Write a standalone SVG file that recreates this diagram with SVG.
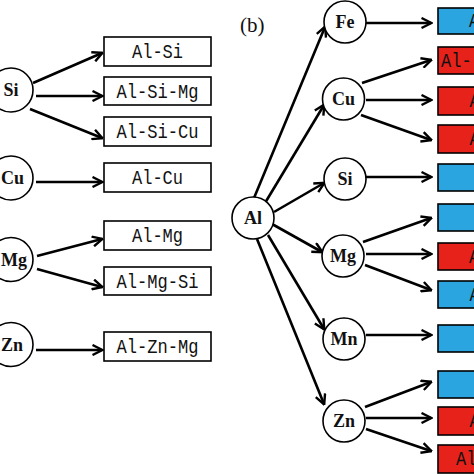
<svg xmlns="http://www.w3.org/2000/svg" width="474" height="474" viewBox="0 0 474 474">
<defs>
<style>
.bg{fill:#ffffff}
.node circle{fill:#ffffff;stroke:#000;stroke-width:1.6}
.el{font-family:"Liberation Serif","Times New Roman",serif;font-weight:bold;font-size:18px;text-anchor:middle;fill:#111}
.box rect{stroke:#000;stroke-width:1.6}
.w{fill:#ffffff}
.blue{fill:#2aa5df}
.red{fill:#e6221b}
.bt{font-family:"Liberation Mono","Courier New",monospace;font-size:20px;fill:#111}
.mid{text-anchor:middle}
.conn line{stroke:#000;stroke-width:2.6;fill:none;marker-end:url(#ah)}
.lbl{font-family:"Liberation Serif","Times New Roman",serif;font-size:21px;fill:#111}
</style>
<marker id="ah" viewBox="0 0 12 12" refX="10.5" refY="6" markerWidth="12" markerHeight="12" markerUnits="userSpaceOnUse" orient="auto">
<path d="M1,1 L11,6 L1,11" fill="none" stroke="#000" stroke-width="2.4" stroke-linejoin="miter"/>
</marker>
</defs>
<rect class="bg" x="0" y="0" width="474" height="474"/>

<!-- connectors -->
<g id="connectors" class="conn">
<!-- left panel -->
<line x1="33" y1="83" x2="102" y2="53"/>
<line x1="36" y1="96" x2="102" y2="96"/>
<line x1="30" y1="109" x2="102" y2="138"/>
<line x1="36" y1="182" x2="102" y2="182"/>
<line x1="37" y1="256" x2="102" y2="239"/>
<line x1="37" y1="269" x2="102" y2="287"/>
<line x1="36" y1="350" x2="102" y2="350"/>
<!-- right panel: Al to elements -->
<line x1="254" y1="198" x2="325" y2="27"/>
<line x1="265" y1="203" x2="324" y2="105"/>
<line x1="274" y1="212" x2="324" y2="183"/>
<line x1="272" y1="224" x2="322" y2="252"/>
<line x1="268" y1="235" x2="324" y2="329"/>
<line x1="257" y1="239" x2="324" y2="404"/>
<!-- elements to boxes -->
<line x1="366" y1="23" x2="431" y2="23"/>
<line x1="362" y1="83" x2="431" y2="60"/>
<line x1="366" y1="100" x2="431" y2="100"/>
<line x1="361" y1="115" x2="431" y2="140"/>
<line x1="366" y1="177" x2="431" y2="177"/>
<line x1="363" y1="242" x2="431" y2="218"/>
<line x1="366" y1="254" x2="431" y2="254"/>
<line x1="365" y1="265" x2="431" y2="290"/>
<line x1="366" y1="335" x2="431" y2="335"/>
<line x1="365" y1="407" x2="431" y2="382"/>
<line x1="366" y1="418" x2="431" y2="418"/>
<line x1="366" y1="429" x2="431" y2="451"/>
</g>

<!-- left panel nodes -->
<g id="L-Si" class="node"><circle cx="11" cy="90" r="22"/><text class="el" x="11" y="96">Si</text></g>
<g id="L-Cu" class="node"><circle cx="11" cy="178" r="22"/><text class="el" x="12.5" y="184">Cu</text></g>
<g id="L-Mg" class="node"><circle cx="11" cy="259.5" r="22"/><text class="el" x="14" y="265.5">Mg</text></g>
<g id="L-Zn" class="node"><circle cx="11" cy="344.5" r="22"/><text class="el" x="12" y="350.5">Zn</text></g>

<g id="L-AlSi" class="box"><rect class="w" x="104" y="37" width="107" height="29"/><text class="bt mid" x="157.5" y="58" textLength="51" lengthAdjust="spacingAndGlyphs">Al-Si</text></g>
<g id="L-AlSiMg" class="box"><rect class="w" x="104" y="77" width="107" height="28"/><text class="bt mid" x="157.5" y="97.5" textLength="82" lengthAdjust="spacingAndGlyphs">Al-Si-Mg</text></g>
<g id="L-AlSiCu" class="box"><rect class="w" x="104" y="117" width="107" height="29"/><text class="bt mid" x="157.5" y="138" textLength="82" lengthAdjust="spacingAndGlyphs">Al-Si-Cu</text></g>
<g id="L-AlCu" class="box"><rect class="w" x="104" y="163" width="107" height="29"/><text class="bt mid" x="157.5" y="184" textLength="51" lengthAdjust="spacingAndGlyphs">Al-Cu</text></g>
<g id="L-AlMg" class="box"><rect class="w" x="104" y="221" width="107" height="29"/><text class="bt mid" x="157.5" y="242" textLength="51" lengthAdjust="spacingAndGlyphs">Al-Mg</text></g>
<g id="L-AlMgSi" class="box"><rect class="w" x="104" y="267" width="107" height="28"/><text class="bt mid" x="157.5" y="287.5" textLength="82" lengthAdjust="spacingAndGlyphs">Al-Mg-Si</text></g>
<g id="L-AlZnMg" class="box"><rect class="w" x="104" y="332" width="107" height="29"/><text class="bt mid" x="157.5" y="353" textLength="82" lengthAdjust="spacingAndGlyphs">Al-Zn-Mg</text></g>

<!-- right panel -->
<text id="label-b" class="lbl" x="240" y="32">(b)</text>
<g id="R-Al" class="node"><circle cx="253" cy="218" r="21"/><text class="el" x="253" y="224">Al</text></g>
<g id="R-Fe" class="node"><circle cx="345" cy="22" r="21"/><text class="el" x="345" y="28">Fe</text></g>
<g id="R-Cu" class="node"><circle cx="343.5" cy="99" r="21"/><text class="el" x="343.5" y="105">Cu</text></g>
<g id="R-Si" class="node"><circle cx="345" cy="179" r="21"/><text class="el" x="345" y="185">Si</text></g>
<g id="R-Mg" class="node"><circle cx="343" cy="256" r="21"/><text class="el" x="343" y="262">Mg</text></g>
<g id="R-Mn" class="node"><circle cx="344" cy="339" r="21"/><text class="el" x="344" y="345">Mn</text></g>
<g id="R-Zn" class="node"><circle cx="344" cy="421" r="21"/><text class="el" x="344" y="427">Zn</text></g>

<g id="R-box1" class="box"><rect class="blue" x="438" y="8" width="50" height="26"/><text class="bt" x="469" y="27" textLength="10.2" lengthAdjust="spacingAndGlyphs">A</text></g>
<g id="R-box2" class="box"><rect class="red" x="438" y="47" width="50" height="27"/><text class="bt" x="441" y="66.5" textLength="30.6" lengthAdjust="spacingAndGlyphs">Al-</text></g>
<g id="R-box3" class="box"><rect class="red" x="438" y="87" width="50" height="28"/><text class="bt" x="469.5" y="107" textLength="10.2" lengthAdjust="spacingAndGlyphs">A</text></g>
<g id="R-box4" class="box"><rect class="red" x="438" y="125" width="50" height="28"/><text class="bt" x="469.5" y="145" textLength="10.2" lengthAdjust="spacingAndGlyphs">A</text></g>
<g id="R-box5" class="box"><rect class="blue" x="438" y="164" width="50" height="27"/></g>
<g id="R-box6" class="box"><rect class="blue" x="438" y="204" width="50" height="27"/></g>
<g id="R-box7" class="box"><rect class="red" x="438" y="243" width="50" height="27"/><text class="bt" x="469" y="262.5" textLength="10.2" lengthAdjust="spacingAndGlyphs">A</text></g>
<g id="R-box8" class="box"><rect class="blue" x="438" y="281" width="50" height="27"/><text class="bt" x="469.5" y="300.5" textLength="10.2" lengthAdjust="spacingAndGlyphs">A</text></g>
<g id="R-box9" class="box"><rect class="blue" x="438" y="325" width="50" height="27"/></g>
<g id="R-box10" class="box"><rect class="blue" x="438" y="371" width="50" height="27"/></g>
<g id="R-box11" class="box"><rect class="red" x="438" y="407" width="50" height="28"/><text class="bt" x="469.5" y="427" textLength="10.2" lengthAdjust="spacingAndGlyphs">A</text></g>
<g id="R-box12" class="box"><rect class="red" x="438" y="445" width="50" height="28"/><text class="bt" x="456" y="465" textLength="20.4" lengthAdjust="spacingAndGlyphs">Al</text></g>
</svg>
